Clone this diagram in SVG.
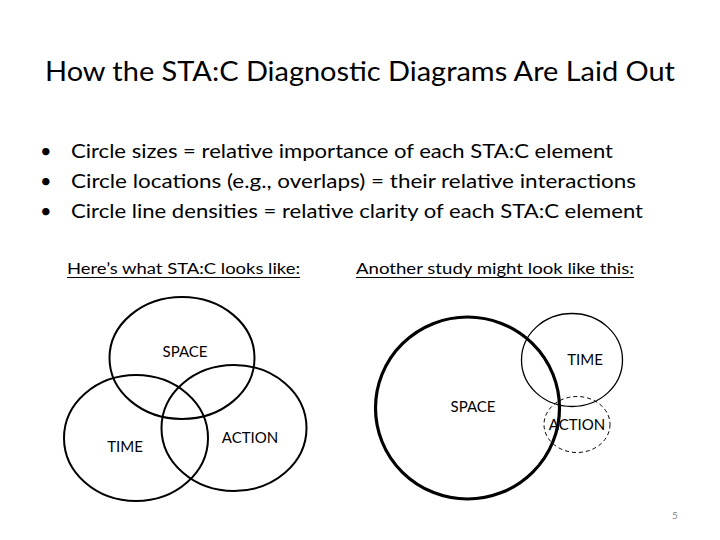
<svg xmlns="http://www.w3.org/2000/svg" width="720" height="540" viewBox="0 0 720 540">
  <style>
    .t { font-family: Lato, "Open Sans", "Liberation Sans", sans-serif; fill: #000; }
    .title { font-size: 26px; }
    .bul { font-size: 20px; }
    .lab { font-size: 15.5px; }
    .cl { font-size: 15px; text-anchor: middle; }
    .c { fill: none; stroke: #000; }
    .thin { stroke-width: 2; }
  </style>
  <rect width="720" height="540" fill="#fff"/>

  <g id="title">
    <text class="t title" x="45" y="81" textLength="630" lengthAdjust="spacingAndGlyphs">How the STA:C Diagnostic Diagrams Are Laid Out</text>
  </g>

  <g id="bullets">
    <text class="t bul" x="40" y="158">•</text>
    <text class="t bul" x="71" y="158" textLength="542" lengthAdjust="spacingAndGlyphs">Circle sizes = relative importance of each STA:C element</text>
    <text class="t bul" x="40" y="188">•</text>
    <text class="t bul" x="71" y="188" textLength="565" lengthAdjust="spacingAndGlyphs">Circle locations (e.g., overlaps) = their relative interactions</text>
    <text class="t bul" x="40" y="218">•</text>
    <text class="t bul" x="71" y="218" textLength="572" lengthAdjust="spacingAndGlyphs">Circle line densities = relative clarity of each STA:C element</text>
  </g>

  <g id="label-left">
    <text class="t lab" x="67" y="274" textLength="233" lengthAdjust="spacingAndGlyphs">Here’s what STA:C looks like:</text>
    <line x1="67" y1="277.5" x2="300" y2="277.5" stroke="#000" stroke-width="1"/>
  </g>
  <g id="label-right">
    <text class="t lab" x="356" y="274" textLength="278" lengthAdjust="spacingAndGlyphs">Another study might look like this:</text>
    <line x1="356" y1="277.5" x2="634" y2="277.5" stroke="#000" stroke-width="1"/>
  </g>

  <g id="left-space">
    <ellipse class="c thin" cx="182" cy="358" rx="72.5" ry="61"/>
    <text class="t cl" x="185" y="357">SPACE</text>
  </g>
  <g id="left-time">
    <ellipse class="c thin" cx="136" cy="438" rx="72" ry="63"/>
    <text class="t cl" x="125" y="452">TIME</text>
  </g>
  <g id="left-action">
    <ellipse class="c thin" cx="234" cy="428" rx="72.5" ry="63"/>
    <text class="t cl" x="250" y="443">ACTION</text>
  </g>

  <g id="right-space">
    <ellipse class="c" stroke-width="3.2" cx="467.5" cy="408" rx="92" ry="91"/>
    <text class="t cl" x="473" y="412">SPACE</text>
  </g>
  <g id="right-time">
    <ellipse class="c" stroke-width="1.3" cx="572" cy="360" rx="50.5" ry="46.5"/>
    <text class="t cl" x="585" y="365">TIME</text>
  </g>
  <g id="right-action">
    <ellipse class="c" stroke-width="1" stroke-dasharray="4 3" cx="577" cy="424.5" rx="33" ry="28"/>
    <text class="t cl" x="577" y="430">ACTION</text>
  </g>

  <g id="page-number">
    <text x="672" y="519" font-family="Lato, 'Liberation Sans', sans-serif" font-size="10" fill="#888">5</text>
  </g>
</svg>
